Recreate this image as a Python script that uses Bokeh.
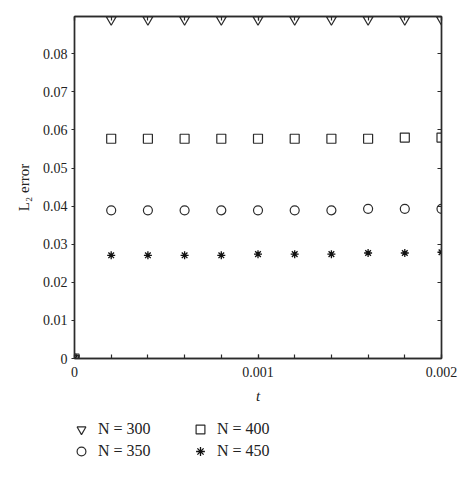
from bokeh.plotting import figure
from bokeh.models import LinearAxis, FixedTicker, Legend, LegendItem, Range1d
from bokeh.layouts import column
from bokeh.embed import file_html
from bokeh.resources import INLINE

# ---- data ----
t_values = [0, 0.0002, 0.0004, 0.0006, 0.0008, 0.001, 0.0012, 0.0014, 0.0016, 0.0018, 0.002]
err_300 = [0, 0.0890, 0.0890, 0.0890, 0.0890, 0.0890, 0.0890, 0.0890, 0.0890, 0.0890, 0.0890]
err_350 = [0, 0.0389, 0.0389, 0.0389, 0.0389, 0.0389, 0.0389, 0.0389, 0.0393, 0.0393, 0.0393]
err_400 = [0, 0.0577, 0.0577, 0.0577, 0.0577, 0.0577, 0.0577, 0.0577, 0.0577, 0.0580, 0.0580]
err_450 = [0, 0.0271, 0.0271, 0.0271, 0.0271, 0.0274, 0.0274, 0.0274, 0.0277, 0.0277, 0.0279]
series_labels = ["N = 300", "N = 350", "N = 400", "N = 450"]

x_tick_values = [0, 0.001, 0.002]
x_tick_labels = ["0", "0.001", "0.002"]
y_tick_values = [0, 0.01, 0.02, 0.03, 0.04, 0.05, 0.06, 0.07, 0.08]
y_tick_labels = ["0", "0.01", "0.02", "0.03", "0.04", "0.05", "0.06", "0.07", "0.08"]

FONT = "Liberation Serif"
INK = "#2b2b2b"

p = figure(width=466, height=408, output_backend="svg", toolbar_location=None,
           x_range=Range1d(0, 0.002), y_range=Range1d(0, 0.0898),
           min_border_left=74, min_border_right=25, min_border_top=16, min_border_bottom=50)
p.grid.visible = False
p.outline_line_color = INK
p.outline_line_width = 1.4
p.background_fill_color = "white"
p.border_fill_color = "white"

xt = FixedTicker(ticks=x_tick_values, minor_ticks=t_values)
yt = FixedTicker(ticks=y_tick_values, minor_ticks=[])

def style_common(ax):
    ax.axis_line_color = INK
    ax.axis_line_width = 1.4
    ax.major_tick_line_color = INK
    ax.minor_tick_line_color = INK
    ax.major_tick_line_width = 1.2
    ax.minor_tick_line_width = 1.2
    ax.major_label_text_font = FONT
    ax.major_label_text_font_size = "14px"
    ax.major_label_text_color = "#222222"
    ax.axis_label_text_font = FONT
    ax.axis_label_text_font_size = "15px"
    ax.axis_label_text_color = "#222222"

# bottom axis
xa = p.xaxis[0]
xa.ticker = xt
xa.major_label_overrides = dict(zip(x_tick_values, x_tick_labels))
style_common(xa)
xa.major_tick_in = 4
xa.major_tick_out = 0
xa.minor_tick_in = 4
xa.minor_tick_out = 0
xa.major_label_standoff = 8
xa.axis_label = "t"
xa.axis_label_text_font_style = "italic"
xa.axis_label_standoff = 8

# left axis
ya = p.yaxis[0]
ya.ticker = yt
ya.major_label_overrides = dict(zip(y_tick_values, y_tick_labels))
style_common(ya)
ya.major_tick_in = 0
ya.major_tick_out = 3
ya.minor_tick_in = 0
ya.minor_tick_out = 0
ya.major_label_standoff = 4
ya.axis_label = "L\u2082 error"
ya.axis_label_text_font_style = "normal"
ya.axis_label_standoff = 8

# top axis (ticks only)
ta = LinearAxis(ticker=FixedTicker(ticks=x_tick_values, minor_ticks=t_values),
                major_label_overrides={v: "" for v in x_tick_values})
style_common(ta)
ta.major_tick_in = 4
ta.major_tick_out = 0
ta.minor_tick_in = 4
ta.minor_tick_out = 0
ta.major_label_standoff = 0
p.add_layout(ta, "above")

# right axis (ticks only)
ra = LinearAxis(ticker=FixedTicker(ticks=y_tick_values, minor_ticks=[]),
                major_label_overrides={v: "" for v in y_tick_values})
style_common(ra)
ra.major_tick_in = 4
ra.major_tick_out = 0
ra.minor_tick_in = 0
ra.minor_tick_out = 0
ra.major_label_standoff = 0
p.add_layout(ra, "right")

series = [err_300, err_350, err_400, err_450]
styles = [
    dict(marker="inverted_triangle", size=10, fill_color=None, line_color=INK, line_width=1.2),
    dict(marker="circle", size=9, fill_color=None, line_color=INK, line_width=1.2),
    dict(marker="square", size=9, fill_color=None, line_color=INK, line_width=1.2),
    dict(marker="asterisk", size=8, fill_color=None, line_color="#111111", line_width=1.3),
]
for ys, st in zip(series, styles):
    p.scatter(t_values, ys, **st)

# ---- legend panel (separate strip below the plot) ----
# its ranges exclude the data, so only the legend itself is visible
q = figure(width=466, height=61, output_backend="svg", toolbar_location=None,
           x_axis_type=None, y_axis_type=None, min_border=0,
           x_range=Range1d(1, 2), y_range=Range1d(1, 2))
q.grid.visible = False
q.outline_line_color = None
q.background_fill_color = "white"
q.border_fill_color = "white"
legend_renderers = [q.scatter(t_values[:1], ys[:1], **st) for ys, st in zip(series, styles)]

legend = Legend(items=[LegendItem(label=lab, renderers=[r])
                       for lab, r in zip(series_labels, legend_renderers)],
                location=(-6, 7.5), orientation="vertical", nrows=2,
                padding=0, margin=0, spacing=0,
                glyph_width=26, glyph_height=22, label_height=22, label_width=89,
                label_standoff=4,
                label_text_font=FONT, label_text_font_size="16px",
                label_text_color="#222222",
                border_line_color=None, background_fill_alpha=0)
q.add_layout(legend)

open("out.html", "w").write(file_html(column(p, q, spacing=0), INLINE))
